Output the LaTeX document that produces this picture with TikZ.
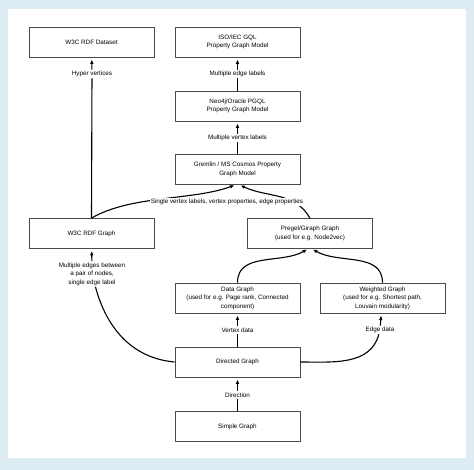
\documentclass[tikz,border=0pt]{standalone}
\usepackage{fontspec}
\setmainfont{Liberation Sans}
\usetikzlibrary{arrows.meta}
\definecolor{panelblue}{HTML}{DDEBF3}
\definecolor{boxgray}{HTML}{4A4A4A}
\tikzset{
	modelbox/.style={draw=boxgray, line width=0.8pt, minimum width=125pt, minimum height=30pt, align=center, inner sep=1pt},
	edgelabel/.style={fill=white, inner sep=1.2pt, align=center},
	link/.style={line width=1.1pt, black},
	arrowlink/.style={link, -{Latex[length=4.5pt,width=3.6pt]}, shorten >=2pt},
}
\begin{document}
\begin{tikzpicture}[x=1pt, y=1pt, font=\fontsize{6.3}{8.6}\selectfont]
	\useasboundingbox (0,0) rectangle (474,470);
	\fill[panelblue] (0,0) rectangle (474,470);
	\fill[white] (8,12) rectangle (466,461);

	% boxes
	\node[modelbox] (rdfset) at (91.5,428) {W3C RDF Dataset};
	\node[modelbox] (iso) at (237.5,428) {ISO/IEC GQL\\Property Graph Model};
	\node[modelbox] (neo) at (237.5,364) {Neo4j/Oracle PGQL\\Property Graph Model};
	\node[modelbox] (gremlin) at (237.5,300.5) {Gremlin / MS Cosmos Property\\Graph Model};
	\node[modelbox] (rdfgraph) at (91.5,236.5) {W3C RDF Graph};
	\node[modelbox] (pregel) at (310,236.5) {Pregel/Giraph Graph\\(used for e.g. Node2vec)};
	\node[modelbox] (data) at (237.5,172) {Data Graph\\(used for e.g. Page rank, Connected\\component)};
	\node[modelbox] (weighted) at (382.5,172) {Weighted Graph\\(used for e.g. Shortest path,\\Louvain modularity)};
	\node[modelbox] (directed) at (237.5,108) {Directed Graph};
	\node[modelbox] (simple) at (237.5,43.5) {Simple Graph};

	% curves behind the shared label
	\draw[arrowlink, shorten >=1pt] (rdfgraph.north) to[out=30, in=-160, looseness=0.8] ([xshift=-2pt]gremlin.south);
	\draw[arrowlink, shorten >=1pt] (pregel.north) to[out=120, in=-25] ([xshift=2pt]gremlin.south);
	\draw[arrowlink, shorten >=1pt] (data.north) to[out=90, in=-150] ([xshift=-2pt]pregel.south);
	\draw[arrowlink, shorten >=1pt] (weighted.north) to[out=90, in=-30] ([xshift=2pt]pregel.south);

	% labels
	\node[edgelabel] (hyper) at (92,396) {Hyper vertices};
	\node[edgelabel] (multiedge) at (237.5,396) {Multiple edge labels};
	\node[edgelabel] (multivertex) at (237.5,332) {Multiple vertex labels};
	\node[edgelabel] (single) at (227,268) {Single vertex labels, vertex properties, edge properties};
	\node[edgelabel] (multiple) at (92,196) {Multiple edges between\\a pair of nodes,\\single edge label};
	\node[edgelabel] (vertexdata) at (237.5,140) {Vertex data};
	\node[edgelabel] (edgedata) at (380,140) {Edge data};
	\node[edgelabel] (direction) at (237.5,75) {Direction};

	% straight links through labels
	\draw[link] (rdfgraph.north) -- (hyper);
	\draw[arrowlink] (hyper) -- (rdfset);
	\draw[link] (neo) -- (multiedge);
	\draw[arrowlink] (multiedge) -- (iso);
	\draw[link] (gremlin) -- (multivertex);
	\draw[arrowlink] (multivertex) -- (neo);
	\draw[link] (directed) -- (vertexdata);
	\draw[arrowlink] (vertexdata) -- (data);
	\draw[link] (simple) -- (direction);
	\draw[arrowlink] (direction) -- (directed);

	% bent links
	\draw[link] (directed.west) to[out=175, in=-75] (multiple);
	\draw[arrowlink] (multiple) -- (rdfgraph);
	\draw[link] (directed.east) to[out=0, in=-105] (edgedata);
	\draw[arrowlink] (edgedata) -- (weighted);
\end{tikzpicture}
\end{document}
